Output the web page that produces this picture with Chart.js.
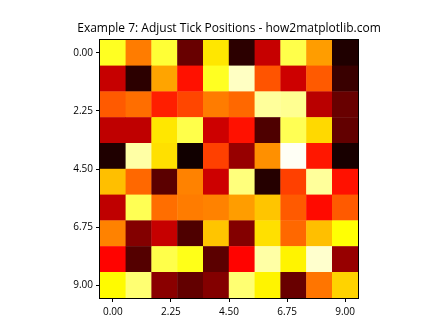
<!DOCTYPE html>
<html>
<head>
<meta charset="utf-8">
<script src="https://cdn.jsdelivr.net/npm/chart.js@4.4.0/dist/chart.umd.min.js"></script>
<style>
  html, body { margin: 0; padding: 0; background: #fff; }
  #wrap { width: 448px; height: 336px; }
</style>
</head>
<body>
<div id="wrap"><canvas id="myChart" width="448" height="336"></canvas></div>
<script>
// grid values (0..1, colormap "hot"), one array per image row
const row0 = [0.78, 0.55, 0.80, 0.14, 0.71, 0.05, 0.28, 0.82, 0.60, 0.03];
const row1 = [0.28, 0.05, 0.61, 0.39, 0.78, 0.94, 0.49, 0.29, 0.50, 0.07];
const row2 = [0.50, 0.53, 0.41, 0.47, 0.55, 0.52, 0.90, 0.89, 0.26, 0.14];
const row3 = [0.27, 0.27, 0.71, 0.82, 0.29, 0.39, 0.10, 0.83, 0.69, 0.13];
const row4 = [0.03, 0.91, 0.70, 0.01, 0.46, 0.21, 0.58, 0.99, 0.40, 0.02];
const row5 = [0.65, 0.52, 0.12, 0.56, 0.29, 0.87, 0.04, 0.46, 0.90, 0.39];
const row6 = [0.27, 0.83, 0.53, 0.55, 0.56, 0.60, 0.66, 0.50, 0.38, 0.50];
const row7 = [0.56, 0.18, 0.28, 0.10, 0.66, 0.18, 0.70, 0.52, 0.65, 0.75];
const row8 = [0.37, 0.11, 0.82, 0.77, 0.12, 0.37, 0.91, 0.73, 0.95, 0.21];
const row9 = [0.74, 0.86, 0.19, 0.13, 0.18, 0.86, 0.73, 0.14, 0.54, 0.68];
const rows = [row0, row1, row2, row3, row4, row5, row6, row7, row8, row9];

const tickVals = [0, 2.25, 4.5, 6.75, 9];
const tickLabels = ['0.00', '2.25', '4.50', '6.75', '9.00'];
const titleText = 'Example 7: Adjust Tick Positions - how2matplotlib.com';

// matplotlib "hot"
function hot(v) {
  const c = x => Math.max(0, Math.min(1, x));
  const r = c(0.0416 + v * (1 - 0.0416) / 0.365079);
  const g = c((v - 0.365079) / (0.746032 - 0.365079));
  const b = c((v - 0.746032) / (1 - 0.746032));
  return `rgb(${Math.round(r * 255)},${Math.round(g * 255)},${Math.round(b * 255)})`;
}

const points = [];
rows.forEach((row, y) => row.forEach((v, x) => points.push({x: x, y: y, v: v})));

const frame = {
  id: 'frame',
  afterDraw(chart) {
    const {ctx, chartArea: a} = chart;
    ctx.save();
    ctx.strokeStyle = '#000';
    ctx.lineWidth = 1;
    ctx.strokeRect(a.left - 0.5, a.top - 0.5, a.right - a.left + 1, a.bottom - a.top + 1);
    ctx.fillStyle = '#000';
    ctx.font = '12px "Open Sans", "DejaVu Sans", sans-serif';
    ctx.textAlign = 'center';
    ctx.textBaseline = 'alphabetic';
    ctx.fillText(titleText, (a.left + a.right) / 2, a.top - 8);
    ctx.restore();
  }
};

const tickFont = {family: '"Open Sans", "DejaVu Sans", sans-serif', size: 10};

function fixTicks(scale) {
  scale.ticks = tickVals.map(v => ({value: v}));
}

const ctx = document.getElementById('myChart');
const chart = new Chart(ctx, {
  type: 'scatter',
  data: {
    datasets: [{
      data: points,
      pointStyle: 'rect',
      borderWidth: 0,
      backgroundColor: c => hot(c.raw ? c.raw.v : 0),
      pointRadius: c => {
        const s = c.chart.scales.x;
        return Math.abs(s.getPixelForValue(1) - s.getPixelForValue(0)) / Math.SQRT2 + 0.3;
      }
    }]
  },
  options: {
    responsive: false,
    animation: false,
    events: [],
    layout: {padding: {top: 40, right: 90, left: 0, bottom: 0}},
    plugins: {legend: {display: false}, tooltip: {enabled: false}, title: {display: false}},
    scales: {
      x: {
        type: 'linear', min: -0.5, max: 9.5,
        afterBuildTicks: fixTicks,
        afterFit: s => { s.height = 38; },
        grid: {drawOnChartArea: false, color: '#000', tickLength: 4, tickWidth: 1},
        border: {display: false},
        ticks: {color: '#000', font: tickFont, padding: 4,
                callback: v => tickLabels[tickVals.indexOf(v)]}
      },
      y: {
        type: 'linear', min: -0.5, max: 9.5, reverse: true,
        afterBuildTicks: fixTicks,
        afterFit: s => { s.width = 100; },
        grid: {drawOnChartArea: false, color: '#000', tickLength: 4, tickWidth: 1},
        border: {display: false},
        ticks: {color: '#000', font: tickFont, padding: 3,
                callback: v => tickLabels[tickVals.indexOf(v)]}
      }
    }
  },
  plugins: [frame]
});
</script>
</body>
</html>
